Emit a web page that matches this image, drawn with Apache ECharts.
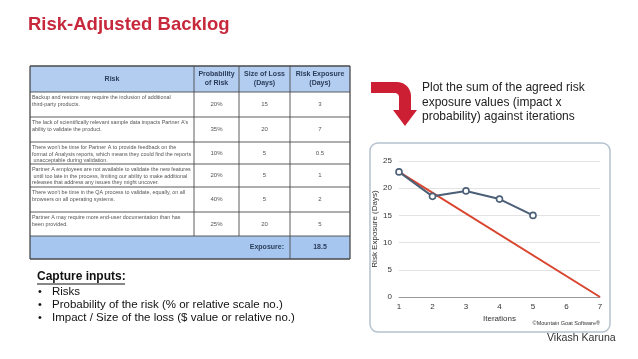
<!DOCTYPE html>
<html>
<head>
<meta charset="utf-8">
<script src="https://cdn.jsdelivr.net/npm/echarts@6/dist/echarts.min.js"></script>
<style>html,body{margin:0;padding:0;background:#fff}#c{width:638px;height:359px}</style>
</head>
<body>
<div id="c"></div>
<script>
// ---- data ----
var iterations = [1, 2, 3, 4, 5];
var actualExposure = [23, 18.5, 19.5, 18, 15];
var idealLine = [[1, 23], [7, 0]];
var yTicks = [0, 5, 10, 15, 20, 25];
var xTicks = [1, 2, 3, 4, 5, 6, 7];

var headers = ['Risk', 'Probability\nof Risk', 'Size of Loss\n(Days)', 'Risk Exposure\n(Days)'];
var risks = [
  'Backup and restore may require the inclusion of additional third-party products.',
  'The lack of scientifically relevant sample data impacts Partner A\'s ability to validate the product.',
  'There won\'t be time for Partner A to provide feedback on the format of Analysis reports, which means they could find the reports unacceptable during validation.',
  'Partner A employees are not available to validate the new features until too late in the process, limiting our ability to make additional releases that address any issues they might uncover.',
  'There won\'t be time in the QA process to validate, equally, on all browsers on all operating systems.',
  'Partner A may require more end-user documentation than has been provided.'
];
var probabilities = ['20%', '35%', '10%', '20%', '40%', '25%'];
var lossSizes = ['15', '20', '5', '5', '5', '20'];
var exposures = ['3', '7', '0.5', '1', '2', '5'];
var totalExposure = '18.5';

var bullets = ['Risks', 'Probability of the risk (% or relative scale no.)', 'Impact / Size of the loss ($ value or relative no.)'];
var noteLines = ['Plot the sum of the agreed risk', 'exposure values (impact x', 'probability) against iterations'];

// ---- layout ----
var colX = [30, 194, 239, 290, 350];
var rowY = [66, 92, 117, 142, 164, 187, 212, 236, 259];
var g = [];

g.push({type:'rect', shape:{x:colX[0], y:rowY[0], width:colX[4]-colX[0], height:rowY[1]-rowY[0]}, style:{fill:'#b2cdf0'}});
g.push({type:'rect', shape:{x:colX[0], y:rowY[7], width:colX[4]-colX[0], height:rowY[8]-rowY[7]}, style:{fill:'#a6c6ef'}});
for (var r = 0; r < rowY.length; r++) {
  g.push({type:'line', shape:{x1:colX[0], y1:rowY[r], x2:colX[4], y2:rowY[r]}, style:{stroke:'#4a4a4a', lineWidth:(r===0||r===rowY.length-1)?1.3:0.9}});
}
for (var c = 0; c < colX.length; c++) {
  var yEnd = (c === 1 || c === 2) ? rowY[7] : rowY[8];
  g.push({type:'line', shape:{x1:colX[c], y1:rowY[0], x2:colX[c], y2:yEnd}, style:{stroke:'#4a4a4a', lineWidth:(c===0||c===colX.length-1)?1.3:0.9}});
}
for (var h = 0; h < headers.length; h++) {
  g.push({type:'text', x:(colX[h]+colX[h+1])/2, y:(rowY[0]+rowY[1])/2, style:{text:headers[h], fill:'#2c3d5a', font:'bold 7px "Liberation Sans", Arial, sans-serif', align:'center', verticalAlign:'middle', lineHeight:9}});
}
var cols = [probabilities, lossSizes, exposures];
for (var i = 0; i < risks.length; i++) {
  g.push({type:'text', x:colX[0]+2, y:rowY[i+1]+2.5, style:{text:risks[i], width:colX[1]-colX[0]-4, overflow:'break', fill:'#555', font:'5.4px "Liberation Sans", Arial, sans-serif', align:'left', verticalAlign:'top', lineHeight:6.5}});
  for (var k = 0; k < 3; k++) {
    g.push({type:'text', x:(colX[k+1]+colX[k+2])/2, y:(rowY[i+1]+rowY[i+2])/2, style:{text:cols[k][i], fill:'#555', font:'6px "Liberation Sans", Arial, sans-serif', align:'center', verticalAlign:'middle'}});
  }
}
g.push({type:'text', x:colX[3]-6, y:(rowY[7]+rowY[8])/2, style:{text:'Exposure:', fill:'#2c3d5a', font:'bold 7px "Liberation Sans", Arial, sans-serif', align:'right', verticalAlign:'middle'}});
g.push({type:'text', x:(colX[3]+colX[4])/2, y:(rowY[7]+rowY[8])/2, style:{text:totalExposure, fill:'#2c3d5a', font:'bold 7px "Liberation Sans", Arial, sans-serif', align:'center', verticalAlign:'middle'}});

g.push({type:'text', x:37, y:277, style:{text:'Capture inputs:', fill:'#111', font:'bold 12px "Liberation Sans", Arial, sans-serif', verticalAlign:'middle'}});
g.push({type:'line', shape:{x1:37, y1:284, x2:125, y2:284}, style:{stroke:'#111', lineWidth:1}});
for (var b = 0; b < bullets.length; b++) {
  g.push({type:'text', x:38, y:292+b*13, style:{text:'\u2022', fill:'#111', font:'11px "Liberation Sans", Arial, sans-serif', verticalAlign:'middle'}});
  g.push({type:'text', x:52, y:292+b*13, style:{text:bullets[b], fill:'#111', font:'11.5px "Liberation Sans", Arial, sans-serif', verticalAlign:'middle'}});
}

for (var n = 0; n < noteLines.length; n++) {
  g.push({type:'text', x:422, y:88+n*14.5, style:{text:noteLines[n], fill:'#222', font:'12px "Liberation Sans", Arial, sans-serif', verticalAlign:'middle'}});
}

function arc(cx, cy, rad, a0, a1, steps) {
  var pts = [];
  for (var s = 0; s <= steps; s++) {
    var a = a0 + (a1 - a0) * s / steps;
    pts.push([cx + rad * Math.cos(a), cy + rad * Math.sin(a)]);
  }
  return pts;
}
var arrowPts = [[371, 82]];
arrowPts = arrowPts.concat(arc(397, 96, 14, -Math.PI/2, 0, 10));
arrowPts.push([411, 110], [417, 110], [405, 126], [393, 110], [399, 110]);
arrowPts = arrowPts.concat(arc(395, 97, 4, 0, -Math.PI/2, 5));
arrowPts.push([371, 93]);
g.push({type:'polygon', shape:{points:arrowPts}, style:{fill:'#cc1f33'}});

g.push({type:'rect', z:-1, shape:{x:370, y:143, width:240, height:189, r:8}, style:{fill:'#fff', stroke:'#b5c2cf', lineWidth:1.5}});
g.push({type:'text', x:600, y:323, style:{text:'\u00A9Mountain Goat Software\u00AE', fill:'#333', font:'5.5px "Liberation Sans", Arial, sans-serif', align:'right', verticalAlign:'middle'}});
g.push({type:'text', x:547, y:338, style:{text:'Vikash Karuna', fill:'#333', font:'10.6px "Liberation Sans", Arial, sans-serif', verticalAlign:'middle'}});

var chart = echarts.init(document.getElementById('c'), null, {renderer:'canvas'});
chart.setOption({
  animation:false,
  backgroundColor:'#fff',
  title:{text:'Risk-Adjusted Backlog', left:23, top:10, textStyle:{color:'#c8283c', fontSize:18.5, fontWeight:'bold', fontFamily:'"Liberation Sans", Arial, sans-serif'}},
  grid:{left:399, right:38, top:161, bottom:62},
  xAxis:{type:'value', min:xTicks[0], max:xTicks[xTicks.length-1], interval:1,
    name:'Iterations', nameLocation:'middle', nameGap:18,
    nameTextStyle:{color:'#333', fontSize:8, fontFamily:'"Liberation Sans", Arial'},
    axisLine:{show:true, lineStyle:{color:'#999', width:1}}, axisTick:{show:false},
    axisLabel:{color:'#333', fontSize:8, margin:6}, splitLine:{show:false}},
  yAxis:{type:'value', min:yTicks[0], max:yTicks[yTicks.length-1], interval:5,
    name:'Risk Exposure (Days)', nameLocation:'middle', nameGap:18,
    nameTextStyle:{color:'#333', fontSize:8, fontFamily:'"Liberation Sans", Arial'},
    axisLine:{show:false}, axisTick:{show:false},
    axisLabel:{color:'#333', fontSize:8, margin:7},
    splitLine:{lineStyle:{color:'#e3e3e3', width:1}}},
  series:[
    {type:'line', data:idealLine, symbol:'none', z:2, lineStyle:{color:'#d9452e', width:2}},
    {type:'line', data:iterations.map(function(x,i){return [x, actualExposure[i]];}), z:3,
      symbol:'circle', symbolSize:6, showAllSymbol:true,
      itemStyle:{color:'#fff', borderColor:'#4b5f77', borderWidth:1.6},
      lineStyle:{color:'#4b5f77', width:2}}
  ],
  graphic:g
});
</script>
</body>
</html>
